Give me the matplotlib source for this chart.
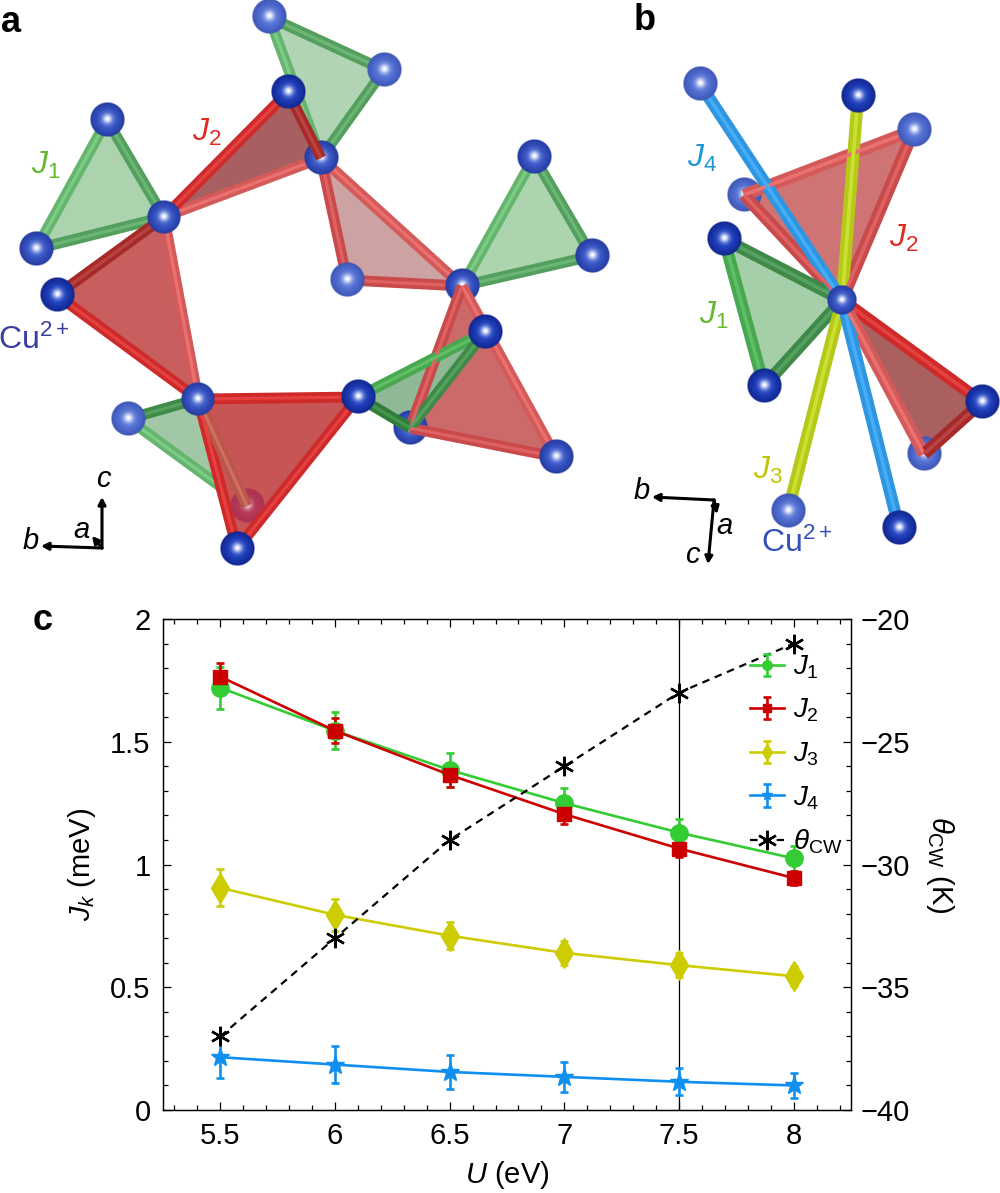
import numpy as np
import matplotlib
matplotlib.use("Agg")
import matplotlib.pyplot as plt
from matplotlib.patches import Polygon
from matplotlib.lines import Line2D
from matplotlib.container import ErrorbarContainer
from matplotlib.legend_handler import HandlerErrorbar
from matplotlib.ticker import MultipleLocator, FuncFormatter

plt.rcParams['font.family'] = ['Liberation Sans', 'DejaVu Sans']
plt.rcParams['mathtext.fontset'] = 'custom'
plt.rcParams['mathtext.rm'] = 'Liberation Sans'
plt.rcParams['mathtext.it'] = 'Liberation Sans:italic'
plt.rcParams['mathtext.bf'] = 'Liberation Sans:bold'

# ---------- panel c data ----------
U = [5.5, 6, 6.5, 7, 7.5, 8]
J1 = [1.72, 1.545, 1.385, 1.25, 1.13, 1.025]
J1_err = [0.085, 0.075, 0.07, 0.06, 0.055, 0.05]
J2 = [1.765, 1.545, 1.365, 1.205, 1.065, 0.945]
J2_err = [0.055, 0.05, 0.05, 0.04, 0.035, 0.03]
J3 = [0.905, 0.795, 0.71, 0.64, 0.59, 0.545]
J3_err = [0.075, 0.065, 0.055, 0.05, 0.05, 0.04]
J4 = [0.215, 0.185, 0.155, 0.135, 0.115, 0.1]
J4_err = [0.085, 0.075, 0.07, 0.06, 0.055, 0.05]
theta_cw = [-37, -33, -29, -26, -23, -21]
x_ticks = [5.5, 6, 6.5, 7, 7.5, 8]
x_tick_labels = ['5.5', '6', '6.5', '7', '7.5', '8']
y_ticks = [0, 0.5, 1, 1.5, 2]
y_tick_labels = ['0', '0.5', '1', '1.5', '2']
C_J1, C_J2, C_J3, C_J4 = '#33cc33', '#cc0000', '#cccc00', '#0f8fef'

# ---------- illustration geometry (pixel positions on the page) ----------
A = {1: (107, 120), 2: (36, 249), 3: (164, 217), 4: (57, 295), 5: (198, 399),
     6: (288, 92), 7: (321, 158), 8: (269, 17), 9: (384, 70), 10: (347, 280),
     11: (462, 286), 12: (534, 157), 13: (592, 256), 14: (485, 332),
     15: (358, 397), 16: (410, 428), 17: (556, 457), 18: (128, 419),
     19: (247, 506), 20: (237, 549)}
B = {0: (842, 300), 1: (700, 84), 2: (858, 96), 3: (914, 130), 4: (744, 195),
     5: (724, 239), 6: (764, 386), 7: (982, 402), 8: (924, 454), 9: (788, 511),
     10: (899, 528)}

G_L, G_M, G_D, G_B = '#66b56e', '#559f5e', '#3f8a49', '#47a84f'
R_L, R_M, R_D, R_B = '#d45a5a', '#c84a4a', '#a52a2a', '#cf2a2a'
YEL, BLU = '#b5c91b', '#2e96e0'

# faces: node ids, colour
A_FACES_BACK = [((1, 2, 3), '#abd3ae'), ((8, 9, 7), '#b0d4b4'), ((12, 13, 11), '#acd5af'),
                ((18, 5, 19), '#a2c7a6'), ((7, 10, 11), '#cda2a2'), ((3, 6, 7), '#a85f62')]
A_BONDS_BACK = [(1, 2, G_L), (1, 3, G_M), (2, 3, G_M), (8, 7, G_L), (8, 9, G_M), (9, 7, G_M),
                (12, 11, G_L), (12, 13, G_M), (13, 11, G_M), (18, 5, G_D), (18, 19, G_L),
                (7, 10, R_M), (10, 11, R_M), (7, 11, R_L), (3, 7, R_L), (3, 6, R_B)]
A_FACES_FRONT = [((3, 4, 5), '#c85e5e'), ((5, 15, 20), '#c85555'), ((11, 16, 17), '#cc6a6a'),
                 ((14, 15, 16), '#8fb896')]
A_BONDS_FRONT = [(3, 4, R_D), (4, 5, R_B), (3, 5, R_L), (5, 15, R_B), (5, 20, R_B), (15, 20, R_B),
                 (5, 19, '#b8574a'), (11, 17, R_L), (11, 16, R_M), (16, 17, R_M), (15, 14, G_B),
                 (14, 16, G_D), (15, 16, '#2f7d38'), (6, 7, R_D)]
A_FRONT_NODES = [4, 6, 14, 15, 20]

B_FACES = [((0, 3, 4), '#cf7474'), ((0, 5, 6), '#a5cfa8'), ((0, 7, 8), '#ab6060')]
B_BONDS = [(3, 4, R_L), (4, 0, R_M), (3, 0, R_M), (5, 0, G_D), (5, 6, G_B), (6, 0, G_D),
           (0, 7, R_B), (0, 8, R_L), (7, 8, R_D),
           (2, 0, YEL), (0, 9, YEL), (1, 0, BLU), (0, 10, BLU)]
B_FRONT_NODES = [2, 5, 6, 10, 7]
B_FADED_TOP = [1, 3, 9]
B_FADED_UNDER = [4, 8]

A_ARROWS = [((102, 548), (102, 497)), ((102, 548), (41, 546)), ((102, 548), (92, 536))]
B_ARROWS = [((714, 500), (652, 497)), ((714, 500), (708, 564)), ((714, 500), (717, 514))]

fig = plt.figure(figsize=(10, 11.93), dpi=100)
page = fig.add_axes([0, 0, 1, 1], zorder=0)
page.set_xlim(0, 1000)
page.set_ylim(1193, 0)
page.axis('off')


def sphere_image(base, edge, alpha=1.0, n=96):
    yy, xx = np.mgrid[-1:1:n * 1j, -1:1:n * 1j]
    t = np.sqrt(xx ** 2 + (yy + 0.04) ** 2)
    rr = np.sqrt(xx ** 2 + yy ** 2)
    base = np.array(matplotlib.colors.to_rgb(base))
    edge = np.array(matplotlib.colors.to_rgb(edge))
    mix = np.clip((rr - 0.25) / 0.75, 0, 1)[..., None] ** 1.3
    col = base * (1 - mix) + edge * mix
    glow = np.exp(-(t / 0.27) ** 2)[..., None]
    col = col * (1 - glow) + np.array([1, 1, 1]) * glow
    a = np.clip((1 - rr) * n / 3, 0, 1) * alpha
    return np.dstack([col, a])


IMG_FRONT = sphere_image('#2347c8', '#10248c')
IMG_MID = sphere_image('#3f5fd0', '#23399f')
IMG_FADED = sphere_image('#5a78dc', '#3c55b4')
IMG_RED = sphere_image('#b03058', '#a02850', alpha=0.75)


def sphere(p, img, r=17.5, z=5):
    page.imshow(img, extent=(p[0] - r, p[0] + r, p[1] + r, p[1] - r), zorder=z,
                interpolation='bilinear', aspect='auto')


def bond(P, i, j, c, w=7.8, z=3):
    x = [P[i][0], P[j][0]]
    y = [P[i][1], P[j][1]]
    page.plot(x, y, color=c, lw=w, solid_capstyle='butt', zorder=z)
    hi = tuple(min(1, v + 0.09) for v in matplotlib.colors.to_rgb(c))
    page.plot(x, y, color=hi, lw=w * 0.3, solid_capstyle='butt', zorder=z + 0.01)


def face(P, nodes, c, z=2):
    page.add_patch(Polygon([P[n] for n in nodes], closed=True, fc=c, ec='none', zorder=z))


for nodes, c in A_FACES_BACK:
    face(A, nodes, c, 1)
for i, j, c in A_BONDS_BACK:
    bond(A, i, j, c, z=2)
for k in (1, 2, 8, 9, 10, 12, 13, 7, 11, 18):
    sphere(A[k], IMG_MID if k in (1, 2, 12, 13, 7, 11) else IMG_FADED, z=2.5)
for nodes, c in A_FACES_FRONT:
    face(A, nodes, c, 3)
for i, j, c in A_BONDS_FRONT:
    bond(A, i, j, c, z=3.5)
sphere(A[19], IMG_RED, z=3.4)
sphere(A[3], IMG_MID, r=17, z=5)
sphere(A[5], IMG_MID, r=17, z=5)
sphere(A[16], IMG_MID, z=3.45)
sphere(A[17], IMG_MID, z=5)
for k in A_FRONT_NODES:
    sphere(A[k], IMG_FRONT, z=5)

for nodes, c in B_FACES:
    face(B, nodes, c, 1)
for k in B_FADED_UNDER:
    sphere(B[k], IMG_FADED, z=1.5)
for i, j, c in B_BONDS:
    bond(B, i, j, c, w=8.8, z=3)
sphere(B[0], IMG_MID, r=15, z=5)
for k in B_FADED_TOP:
    sphere(B[k], IMG_FADED, z=5)
for k in B_FRONT_NODES:
    sphere(B[k], IMG_FRONT, z=5)

for (p0, p1) in A_ARROWS + B_ARROWS:
    page.annotate('', xy=p1, xytext=p0, zorder=6,
                  arrowprops=dict(arrowstyle='-|>,head_width=0.22,head_length=0.42', lw=2.2,
                                  color='black', shrinkA=0, shrinkB=0))

PAGE_TEXT = [
    ('a', 11, 22, 'black', 26, 'bold'), ('b', 645, 20, 'black', 26, 'bold'),
    ('c', 43, 620, 'black', 26, 'bold'),
    ('$J_1$', 46, 165, '#64b82e', 23, 'normal'), ('$J_2$', 207, 132, '#e02a20', 23, 'normal'),
    ('Cu$^{2+}$', 34, 340, '#3a3f9f', 23, 'normal'),
    ('$J_4$', 702, 158, '#1d96d6', 23, 'normal'), ('$J_2$', 904, 238, '#e02a20', 23, 'normal'),
    ('$J_1$', 714, 315, '#64b82e', 23, 'normal'), ('$J_3$', 768, 470, '#c4c400', 23, 'normal'),
    ('Cu$^{2+}$', 797, 543, '#3350b8', 23, 'normal'),
    ('$c$', 104, 479, 'black', 21, 'normal'), ('$b$', 31, 541, 'black', 21, 'normal'),
    ('$a$', 82, 530, 'black', 21, 'normal'), ('$b$', 642, 491, 'black', 21, 'normal'),
    ('$a$', 725, 526, 'black', 21, 'normal'), ('$c$', 693, 555, 'black', 21, 'normal'),
]
for s, x, y, c, fs, wt in PAGE_TEXT:
    page.text(x, y, s, color=c, fontsize=fs, fontweight=wt, ha='center', va='center', zorder=7)

# ---------- panel c ----------
L, R, T, Bt = 163, 851, 619, 1110
ax = fig.add_axes([L / 1000, 1 - Bt / 1193, (R - L) / 1000, (Bt - T) / 1193], zorder=1)
ax.patch.set_alpha(0)
tw = ax.twinx()
tw.set_zorder(2)

ax.axvline(7.5, color='black', lw=0.9, zorder=1)
series = [(J1, J1_err, C_J1, 'o', 12.5, '$J_1$'), (J2, J2_err, C_J2, 's', 9.5, '$J_2$'),
          (J3, J3_err, C_J3, 'd', 15, '$J_3$'), (J4, J4_err, C_J4, '*', 14, '$J_4$')]
handles = []
for vals, err, c, mk, ms, lab in series:
    h = ax.errorbar(U, vals, yerr=err, color=c, marker=mk, ms=ms, mec=c, lw=1.9, elinewidth=1.9,
                    capsize=3, capthick=1.9, label=lab, zorder=3)
    handles.append(h)
line_t, = tw.plot(U, theta_cw, color='black', ls=(0, (3.4, 2.6)), lw=1.6, marker=(6, 2, 0), ms=14,
                  mew=1.7, mec='black', label=r'$\theta_{\mathrm{CW}}$', zorder=4)
handles.append(line_t)

ax.set_xlim(5.25, 8.25)
ax.set_ylim(0, 2)
tw.set_ylim(-40, -20)
ax.set_xticks(x_ticks, x_tick_labels)
ax.set_yticks(y_ticks, y_tick_labels)
ax.xaxis.set_minor_locator(MultipleLocator(0.1))
ax.yaxis.set_minor_locator(MultipleLocator(0.1))
tw.yaxis.set_major_locator(MultipleLocator(5))
tw.yaxis.set_minor_locator(MultipleLocator(1))
tw.yaxis.set_major_formatter(FuncFormatter(lambda v, _: f'\u2212{abs(v):.0f}'))
ax.tick_params(which='major', direction='in', length=6, width=0.9, top=True, labelsize=21, pad=9)
ax.tick_params(which='minor', direction='in', length=3.5, width=0.9, top=True)
tw.tick_params(which='major', direction='in', length=6, width=0.9, labelsize=21, pad=7)
tw.tick_params(which='minor', direction='in', length=3.5, width=0.9)
for a_ in (ax, tw):
    for s in a_.spines.values():
        s.set_linewidth(0.9)
ax.set_xlabel('$U$ (eV)', fontsize=21, labelpad=6)
ax.set_ylabel('$J_k$ (meV)', fontsize=21, labelpad=9)
tw.set_ylabel(r'$\theta_{\mathrm{CW}}$ (K)', fontsize=21, rotation=-90, labelpad=33)

leg = tw.legend(handles, [s[5] for s in series] + [r'$\theta_{\mathrm{CW}}$'],
                loc='upper right', bbox_to_anchor=(0.987, 0.93), frameon=False, fontsize=20,
                handlelength=1.25, handletextpad=0.3, labelspacing=0.58, borderaxespad=0,
                borderpad=0, markerscale=0.55, numpoints=1,
                handler_map={ErrorbarContainer: HandlerErrorbar(xerr_size=0, yerr_size=0.4, numpoints=1)})
for ln in leg.findobj(Line2D):
    if ln.get_marker() == (6, 2, 0):
        ln.set_markersize(14)

fig.savefig('out.png', dpi=100)
